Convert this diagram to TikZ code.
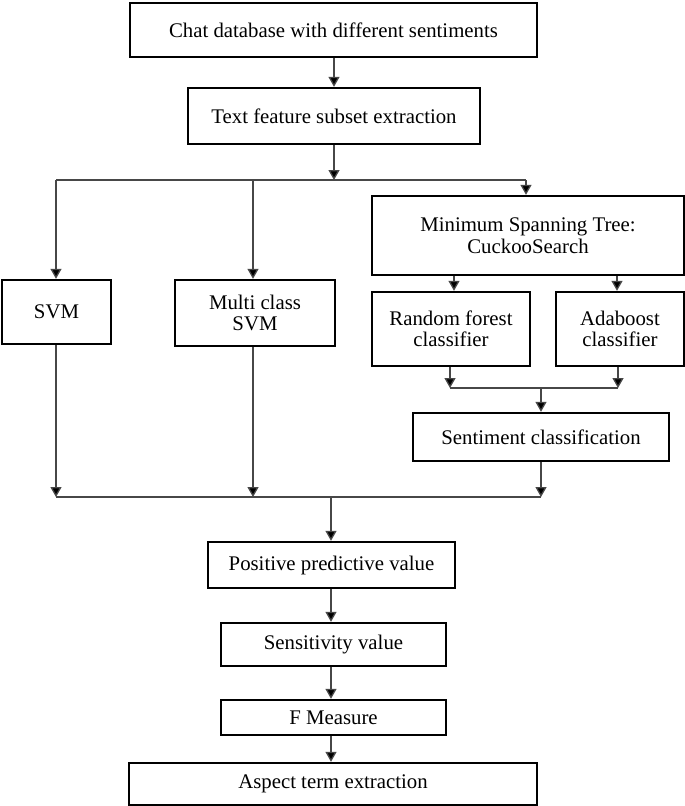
\documentclass[tikz,border=0pt]{standalone}
\usepackage{fontspec}
\setmainfont{Liberation Serif}
\usetikzlibrary{arrows.meta}
\begin{document}
\begin{tikzpicture}[x=1pt,y=-1pt,
  box/.style={draw=black,line width=2.4pt,fill=white,inner sep=0pt,align=center,
    font=\fontsize{20.8}{21.5}\selectfont},
  conn/.style={draw=black!72,line width=1.3pt},
  arr/.style={conn,-{Triangle[length=10pt,width=11pt,fill=black]}}]
\useasboundingbox (0,0) rectangle (685,806);
\fill[white] (0,0) rectangle (685,806);
% boxes
\node[box,minimum width=407pt,minimum height=54pt] (chat) at (333.5,30) {Chat database with different sentiments};
\node[box,minimum width=292pt,minimum height=56pt] (text) at (334,116) {Text feature subset extraction};
\node[box,minimum width=312pt,minimum height=79pt] (mst) at (528,235.5) {Minimum Spanning Tree:\\CuckooSearch};
\node[box,minimum width=109pt,minimum height=64pt] (svm) at (56.5,312) {SVM};
\node[box,minimum width=160pt,minimum height=66pt] (multi) at (255,313) {Multi class\\SVM};
\node[box,minimum width=158pt,minimum height=74pt] (rf) at (451,329) {Random forest\\classifier};
\node[box,minimum width=128pt,minimum height=74pt] (ada) at (620,329) {Adaboost\\classifier};
\node[box,minimum width=256pt,minimum height=48pt] (sent) at (541,437) {Sentiment classification};
\node[box,minimum width=247pt,minimum height=46pt] (ppv) at (331.5,565) {Positive predictive value};
\node[box,minimum width=225pt,minimum height=43pt] (sens) at (333.5,644.5) {Sensitivity value};
\node[box,minimum width=225pt,minimum height=35pt] (fm) at (333.5,717.5) {F Measure};
\node[box,minimum width=408pt,minimum height=42pt] (asp) at (333,784) {Aspect term extraction};
% coordinates
\coordinate (bt) at (334,180);
\coordinate (bl) at (56,180);
\coordinate (bm) at (253,180);
\coordinate (br) at (526,180);
\coordinate (m1) at (454,0);
\coordinate (m2) at (617,0);
\coordinate (jl) at (450,388);
\coordinate (jr) at (618,388);
\coordinate (jc) at (541,388);
\coordinate (ll) at (56,497);
\coordinate (lm) at (253,497);
\coordinate (lr) at (541,497);
\coordinate (lc) at (331,497);
\coordinate (cx) at (331,0);
% connectors
\draw[arr] (chat.south -| bt) -- (text.north -| bt);
\draw[arr] (text.south -| bt) -- (bt);
\draw[conn] (bl) -- (br);
\draw[arr] (bl) -- (bl |- svm.north);
\draw[arr] (bm) -- (bm |- multi.north);
\draw[arr] (br) -- (br |- mst.north);
\draw[arr] (m1 |- mst.south) -- (m1 |- rf.north);
\draw[arr] (m2 |- mst.south) -- (m2 |- ada.north);
\draw[arr] (jl |- rf.south) -- (jl);
\draw[arr] (jr |- ada.south) -- (jr);
\draw[conn] (jl) -- (jr);
\draw[arr] (jc) -- (jc |- sent.north);
\draw[arr] (lr |- sent.south) -- (lr);
\draw[arr] (ll |- svm.south) -- (ll);
\draw[arr] (lm |- multi.south) -- (lm);
\draw[conn] (ll) -- (lr);
\draw[arr] (lc) -- (lc |- ppv.north);
\draw[arr] (cx |- ppv.south) -- (cx |- sens.north);
\draw[arr] (cx |- sens.south) -- (cx |- fm.north);
\draw[arr] (cx |- fm.south) -- (cx |- asp.north);
\end{tikzpicture}
\end{document}
